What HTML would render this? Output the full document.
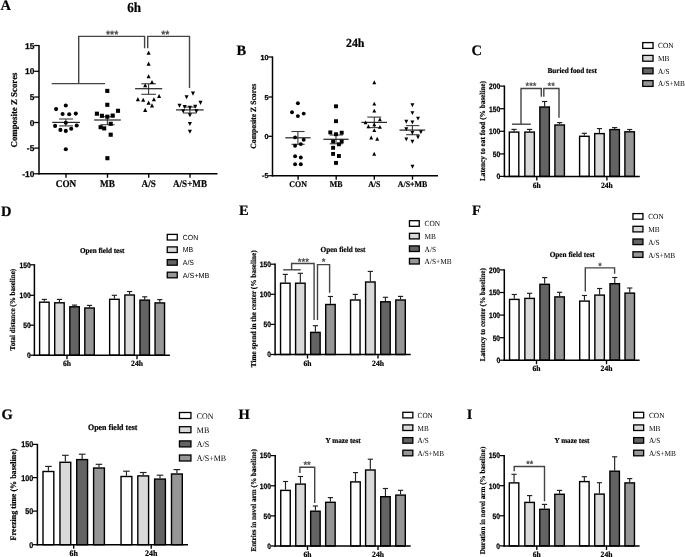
<!DOCTYPE html>
<html lang="en"><head><meta charset="utf-8"><title>Figure</title>
<style>
html,body{margin:0;padding:0;background:#fff;}
body{width:685px;height:557px;overflow:hidden;}
svg{display:block;}
</style></head>
<body>
<svg width="685" height="557" viewBox="0 0 685 557" text-rendering="geometricPrecision">
<rect width="685" height="557" fill="#fff"/>
<line x1="65.80" y1="119.00" x2="65.80" y2="125.90" stroke="#333" stroke-width="1.1" stroke-linecap="butt"/>
<line x1="59.10" y1="119.00" x2="73.00" y2="119.00" stroke="#3c3c3c" stroke-width="1.1" stroke-linecap="butt"/>
<line x1="59.10" y1="125.90" x2="73.00" y2="125.90" stroke="#3c3c3c" stroke-width="1.1" stroke-linecap="butt"/>
<line x1="52.20" y1="122.40" x2="79.90" y2="122.40" stroke="#2a2a2a" stroke-width="1.25" stroke-linecap="butt"/>
<circle cx="65.80" cy="105.50" r="2.05" fill="#000"/>
<circle cx="56.10" cy="109.10" r="2.05" fill="#000"/>
<circle cx="62.60" cy="114.00" r="2.05" fill="#000"/>
<circle cx="69.20" cy="114.30" r="2.05" fill="#000"/>
<circle cx="75.80" cy="113.60" r="2.05" fill="#000"/>
<circle cx="65.80" cy="122.80" r="2.05" fill="#000"/>
<circle cx="55.10" cy="125.90" r="2.05" fill="#000"/>
<circle cx="76.70" cy="125.50" r="2.05" fill="#000"/>
<circle cx="60.40" cy="129.90" r="2.05" fill="#000"/>
<circle cx="65.80" cy="130.90" r="2.05" fill="#000"/>
<circle cx="71.20" cy="128.80" r="2.05" fill="#000"/>
<circle cx="65.80" cy="149.30" r="2.05" fill="#000"/>
<line x1="107.40" y1="116.70" x2="107.40" y2="124.70" stroke="#333" stroke-width="1.1" stroke-linecap="butt"/>
<line x1="100.40" y1="116.70" x2="114.50" y2="116.70" stroke="#3c3c3c" stroke-width="1.1" stroke-linecap="butt"/>
<line x1="100.40" y1="124.70" x2="114.50" y2="124.70" stroke="#3c3c3c" stroke-width="1.1" stroke-linecap="butt"/>
<line x1="94.10" y1="120.00" x2="120.80" y2="120.00" stroke="#2a2a2a" stroke-width="1.25" stroke-linecap="butt"/>
<rect x="105.25" y="88.85" width="4.10" height="4.10" fill="#000"/>
<rect x="105.25" y="102.75" width="4.10" height="4.10" fill="#000"/>
<rect x="115.95" y="108.75" width="4.10" height="4.10" fill="#000"/>
<rect x="94.85" y="111.65" width="4.10" height="4.10" fill="#000"/>
<rect x="99.85" y="113.75" width="4.10" height="4.10" fill="#000"/>
<rect x="105.25" y="114.65" width="4.10" height="4.10" fill="#000"/>
<rect x="110.65" y="113.55" width="4.10" height="4.10" fill="#000"/>
<rect x="108.65" y="121.75" width="4.10" height="4.10" fill="#000"/>
<rect x="98.55" y="125.15" width="4.10" height="4.10" fill="#000"/>
<rect x="102.15" y="126.35" width="4.10" height="4.10" fill="#000"/>
<rect x="108.65" y="132.65" width="4.10" height="4.10" fill="#000"/>
<rect x="105.35" y="156.15" width="4.10" height="4.10" fill="#000"/>
<line x1="148.60" y1="83.80" x2="148.60" y2="94.30" stroke="#333" stroke-width="1.1" stroke-linecap="butt"/>
<line x1="141.30" y1="83.80" x2="155.90" y2="83.80" stroke="#3c3c3c" stroke-width="1.1" stroke-linecap="butt"/>
<line x1="141.30" y1="94.30" x2="155.90" y2="94.30" stroke="#3c3c3c" stroke-width="1.1" stroke-linecap="butt"/>
<line x1="135.10" y1="88.70" x2="162.20" y2="88.70" stroke="#2a2a2a" stroke-width="1.25" stroke-linecap="butt"/>
<polygon points="148.60,50.55 150.65,54.65 146.55,54.65" fill="#000"/>
<polygon points="148.60,61.55 150.65,65.65 146.55,65.65" fill="#000"/>
<polygon points="148.60,74.25 150.65,78.35 146.55,78.35" fill="#000"/>
<polygon points="152.00,79.95 154.05,84.05 149.95,84.05" fill="#000"/>
<polygon points="145.20,83.25 147.25,87.35 143.15,87.35" fill="#000"/>
<polygon points="159.10,93.95 161.15,98.05 157.05,98.05" fill="#000"/>
<polygon points="137.90,97.05 139.95,101.15 135.85,101.15" fill="#000"/>
<polygon points="143.20,97.65 145.25,101.75 141.15,101.75" fill="#000"/>
<polygon points="153.90,97.15 155.95,101.25 151.85,101.25" fill="#000"/>
<polygon points="148.60,100.55 150.65,104.65 146.55,104.65" fill="#000"/>
<polygon points="152.00,103.35 154.05,107.45 149.95,107.45" fill="#000"/>
<polygon points="145.20,107.85 147.25,111.95 143.15,111.95" fill="#000"/>
<line x1="189.90" y1="107.00" x2="189.90" y2="113.00" stroke="#333" stroke-width="1.1" stroke-linecap="butt"/>
<line x1="183.20" y1="107.00" x2="196.40" y2="107.00" stroke="#3c3c3c" stroke-width="1.1" stroke-linecap="butt"/>
<line x1="183.20" y1="113.00" x2="196.40" y2="113.00" stroke="#3c3c3c" stroke-width="1.1" stroke-linecap="butt"/>
<line x1="176.00" y1="109.90" x2="203.70" y2="109.90" stroke="#2a2a2a" stroke-width="1.25" stroke-linecap="butt"/>
<polygon points="193.00,95.65 195.05,91.55 190.95,91.55" fill="#000"/>
<polygon points="186.60,99.25 188.65,95.15 184.55,95.15" fill="#000"/>
<polygon points="200.50,104.95 202.55,100.85 198.45,100.85" fill="#000"/>
<polygon points="179.50,107.85 181.55,103.75 177.45,103.75" fill="#000"/>
<polygon points="184.70,109.05 186.75,104.95 182.65,104.95" fill="#000"/>
<polygon points="189.90,109.75 191.95,105.65 187.85,105.65" fill="#000"/>
<polygon points="195.20,108.85 197.25,104.75 193.15,104.75" fill="#000"/>
<polygon points="183.20,113.45 185.25,109.35 181.15,109.35" fill="#000"/>
<polygon points="196.40,113.45 198.45,109.35 194.35,109.35" fill="#000"/>
<polygon points="189.90,117.25 191.95,113.15 187.85,113.15" fill="#000"/>
<polygon points="189.90,126.05 191.95,121.95 187.85,121.95" fill="#000"/>
<polygon points="189.90,133.85 191.95,129.75 187.85,129.75" fill="#000"/>
<line x1="39.00" y1="44.90" x2="39.00" y2="174.50" stroke="#000" stroke-width="1.5" stroke-linecap="butt"/>
<line x1="38.25" y1="173.75" x2="217.50" y2="173.75" stroke="#000" stroke-width="1.5" stroke-linecap="butt"/>
<line x1="34.20" y1="45.50" x2="39.00" y2="45.50" stroke="#000" stroke-width="1.25" stroke-linecap="butt"/>
<text x="34.30" y="48.52" font-size="8.4" font-family='"Liberation Sans","DejaVu Sans",sans-serif' font-weight="bold" text-anchor="end" fill="#000" stroke="#000" stroke-width="0.26" stroke-linejoin="round" >15</text>
<line x1="34.20" y1="71.30" x2="39.00" y2="71.30" stroke="#000" stroke-width="1.25" stroke-linecap="butt"/>
<text x="34.30" y="74.32" font-size="8.4" font-family='"Liberation Sans","DejaVu Sans",sans-serif' font-weight="bold" text-anchor="end" fill="#000" stroke="#000" stroke-width="0.26" stroke-linejoin="round" >10</text>
<line x1="34.20" y1="97.00" x2="39.00" y2="97.00" stroke="#000" stroke-width="1.25" stroke-linecap="butt"/>
<text x="34.30" y="100.02" font-size="8.4" font-family='"Liberation Sans","DejaVu Sans",sans-serif' font-weight="bold" text-anchor="end" fill="#000" stroke="#000" stroke-width="0.26" stroke-linejoin="round" >5</text>
<line x1="34.20" y1="122.50" x2="39.00" y2="122.50" stroke="#000" stroke-width="1.25" stroke-linecap="butt"/>
<text x="34.30" y="125.52" font-size="8.4" font-family='"Liberation Sans","DejaVu Sans",sans-serif' font-weight="bold" text-anchor="end" fill="#000" stroke="#000" stroke-width="0.26" stroke-linejoin="round" >0</text>
<line x1="34.20" y1="148.10" x2="39.00" y2="148.10" stroke="#000" stroke-width="1.25" stroke-linecap="butt"/>
<text x="34.30" y="151.12" font-size="8.4" font-family='"Liberation Sans","DejaVu Sans",sans-serif' font-weight="bold" text-anchor="end" fill="#000" stroke="#000" stroke-width="0.26" stroke-linejoin="round" >-5</text>
<line x1="34.20" y1="173.75" x2="39.00" y2="173.75" stroke="#000" stroke-width="1.25" stroke-linecap="butt"/>
<text x="34.30" y="176.77" font-size="8.4" font-family='"Liberation Sans","DejaVu Sans",sans-serif' font-weight="bold" text-anchor="end" fill="#000" stroke="#000" stroke-width="0.26" stroke-linejoin="round" >-10</text>
<line x1="66.00" y1="173.75" x2="66.00" y2="177.75" stroke="#000" stroke-width="1.35" stroke-linecap="butt"/>
<text x="55.80" y="187.10" font-size="10.2" font-family='"Liberation Serif","DejaVu Serif",serif' font-weight="bold" text-anchor="start" fill="#000" textLength="20.40" lengthAdjust="spacingAndGlyphs" stroke="#000" stroke-width="0.2" stroke-linejoin="round" >CON</text>
<line x1="107.50" y1="173.75" x2="107.50" y2="177.75" stroke="#000" stroke-width="1.35" stroke-linecap="butt"/>
<text x="100.10" y="187.10" font-size="10.2" font-family='"Liberation Serif","DejaVu Serif",serif' font-weight="bold" text-anchor="start" fill="#000" textLength="14.80" lengthAdjust="spacingAndGlyphs" stroke="#000" stroke-width="0.2" stroke-linejoin="round" >MB</text>
<line x1="148.70" y1="173.75" x2="148.70" y2="177.75" stroke="#000" stroke-width="1.35" stroke-linecap="butt"/>
<text x="141.55" y="187.10" font-size="10.2" font-family='"Liberation Serif","DejaVu Serif",serif' font-weight="bold" text-anchor="start" fill="#000" textLength="14.30" lengthAdjust="spacingAndGlyphs" stroke="#000" stroke-width="0.2" stroke-linejoin="round" >A/S</text>
<line x1="190.00" y1="173.75" x2="190.00" y2="177.75" stroke="#000" stroke-width="1.35" stroke-linecap="butt"/>
<text x="173.00" y="187.10" font-size="10.2" font-family='"Liberation Serif","DejaVu Serif",serif' font-weight="bold" text-anchor="start" fill="#000" textLength="34.00" lengthAdjust="spacingAndGlyphs" stroke="#000" stroke-width="0.2" stroke-linejoin="round" >A/S+MB</text>
<text x="127.15" y="11.70" font-size="14" font-family='"Liberation Serif","DejaVu Serif",serif' font-weight="bold" text-anchor="start" fill="#000" textLength="13.90" lengthAdjust="spacingAndGlyphs" stroke="#000" stroke-width="0.2" stroke-linejoin="round" >6h</text>
<text x="-20.60" y="110.00" font-size="8.943999999999999" font-family='"Liberation Serif","DejaVu Serif",serif' font-weight="bold" text-anchor="start" fill="#000" textLength="75.00" lengthAdjust="spacingAndGlyphs" transform="rotate(-90 16.90 110.00)" stroke="#000" stroke-width="0.2" stroke-linejoin="round" >Composite Z Scores</text>
<text x="0.60" y="9.60" font-size="14.5" font-family='"Liberation Serif","DejaVu Serif",serif' font-weight="bold" text-anchor="start" fill="#000" stroke="#000" stroke-width="0.2" stroke-linejoin="round" >A</text>
<polyline points="51.70,83.60 105.00,83.60" fill="none" stroke="#444" stroke-width="1.4" stroke-linejoin="miter"/>
<polyline points="78.70,83.60 78.70,36.40 144.60,36.40 144.60,48.20" fill="none" stroke="#444" stroke-width="1.4" stroke-linejoin="miter"/>
<polyline points="147.70,48.20 147.70,36.40 189.50,36.40 189.50,87.90" fill="none" stroke="#444" stroke-width="1.4" stroke-linejoin="miter"/>
<text x="112.20" y="37.80" font-size="10.6" font-family='"Liberation Sans","DejaVu Sans",sans-serif' font-weight="normal" text-anchor="middle" fill="#444" stroke="#444" stroke-width="0.3">***</text>
<text x="165.30" y="37.80" font-size="10.6" font-family='"Liberation Sans","DejaVu Sans",sans-serif' font-weight="normal" text-anchor="middle" fill="#444" stroke="#444" stroke-width="0.3">**</text>
<line x1="297.90" y1="131.50" x2="297.90" y2="144.30" stroke="#333" stroke-width="1.1" stroke-linecap="butt"/>
<line x1="291.40" y1="131.50" x2="304.60" y2="131.50" stroke="#3c3c3c" stroke-width="1.1" stroke-linecap="butt"/>
<line x1="291.40" y1="144.30" x2="304.60" y2="144.30" stroke="#3c3c3c" stroke-width="1.1" stroke-linecap="butt"/>
<line x1="285.30" y1="137.80" x2="310.60" y2="137.80" stroke="#2a2a2a" stroke-width="1.25" stroke-linecap="butt"/>
<circle cx="297.90" cy="103.20" r="1.95" fill="#000"/>
<circle cx="292.00" cy="112.20" r="1.95" fill="#000"/>
<circle cx="303.70" cy="113.60" r="1.95" fill="#000"/>
<circle cx="297.90" cy="116.10" r="1.95" fill="#000"/>
<circle cx="295.10" cy="137.40" r="1.95" fill="#000"/>
<circle cx="303.70" cy="139.70" r="1.95" fill="#000"/>
<circle cx="300.80" cy="144.10" r="1.95" fill="#000"/>
<circle cx="295.10" cy="145.70" r="1.95" fill="#000"/>
<circle cx="295.10" cy="156.30" r="1.95" fill="#000"/>
<circle cx="300.80" cy="157.50" r="1.95" fill="#000"/>
<circle cx="295.10" cy="164.20" r="1.95" fill="#000"/>
<circle cx="300.80" cy="164.20" r="1.95" fill="#000"/>
<line x1="336.00" y1="135.00" x2="336.00" y2="143.80" stroke="#333" stroke-width="1.1" stroke-linecap="butt"/>
<line x1="329.70" y1="135.00" x2="342.90" y2="135.00" stroke="#3c3c3c" stroke-width="1.1" stroke-linecap="butt"/>
<line x1="329.70" y1="143.80" x2="342.90" y2="143.80" stroke="#3c3c3c" stroke-width="1.1" stroke-linecap="butt"/>
<line x1="323.40" y1="139.30" x2="348.60" y2="139.30" stroke="#2a2a2a" stroke-width="1.25" stroke-linecap="butt"/>
<rect x="334.05" y="104.35" width="3.90" height="3.90" fill="#000"/>
<rect x="334.05" y="119.25" width="3.90" height="3.90" fill="#000"/>
<rect x="328.35" y="130.45" width="3.90" height="3.90" fill="#000"/>
<rect x="334.05" y="132.25" width="3.90" height="3.90" fill="#000"/>
<rect x="339.75" y="130.75" width="3.90" height="3.90" fill="#000"/>
<rect x="331.15" y="139.55" width="3.90" height="3.90" fill="#000"/>
<rect x="339.75" y="139.55" width="3.90" height="3.90" fill="#000"/>
<rect x="336.95" y="142.35" width="3.90" height="3.90" fill="#000"/>
<rect x="331.15" y="145.85" width="3.90" height="3.90" fill="#000"/>
<rect x="331.15" y="151.95" width="3.90" height="3.90" fill="#000"/>
<rect x="336.95" y="154.05" width="3.90" height="3.90" fill="#000"/>
<rect x="334.05" y="160.95" width="3.90" height="3.90" fill="#000"/>
<line x1="374.30" y1="117.10" x2="374.30" y2="127.60" stroke="#333" stroke-width="1.1" stroke-linecap="butt"/>
<line x1="367.30" y1="117.10" x2="381.20" y2="117.10" stroke="#3c3c3c" stroke-width="1.1" stroke-linecap="butt"/>
<line x1="367.30" y1="127.60" x2="381.20" y2="127.60" stroke="#3c3c3c" stroke-width="1.1" stroke-linecap="butt"/>
<line x1="361.40" y1="122.40" x2="387.00" y2="122.40" stroke="#2a2a2a" stroke-width="1.25" stroke-linecap="butt"/>
<polygon points="374.30,80.35 376.25,84.25 372.35,84.25" fill="#000"/>
<polygon points="374.30,101.65 376.25,105.55 372.35,105.55" fill="#000"/>
<polygon points="374.30,108.65 376.25,112.55 372.35,112.55" fill="#000"/>
<polygon points="379.90,117.35 381.85,121.25 377.95,121.25" fill="#000"/>
<polygon points="365.60,120.45 367.55,124.35 363.65,124.35" fill="#000"/>
<polygon points="374.30,122.45 376.25,126.35 372.35,126.35" fill="#000"/>
<polygon points="368.40,124.35 370.35,128.25 366.45,128.25" fill="#000"/>
<polygon points="379.90,124.95 381.85,128.85 377.95,128.85" fill="#000"/>
<polygon points="374.30,128.15 376.25,132.05 372.35,132.05" fill="#000"/>
<polygon points="371.20,135.55 373.15,139.45 369.25,139.45" fill="#000"/>
<polygon points="377.20,136.85 379.15,140.75 375.25,140.75" fill="#000"/>
<polygon points="374.20,151.75 376.15,155.65 372.25,155.65" fill="#000"/>
<line x1="412.40" y1="125.60" x2="412.40" y2="134.70" stroke="#333" stroke-width="1.1" stroke-linecap="butt"/>
<line x1="406.10" y1="125.60" x2="419.30" y2="125.60" stroke="#3c3c3c" stroke-width="1.1" stroke-linecap="butt"/>
<line x1="406.10" y1="134.70" x2="419.30" y2="134.70" stroke="#3c3c3c" stroke-width="1.1" stroke-linecap="butt"/>
<line x1="399.50" y1="130.10" x2="425.20" y2="130.10" stroke="#2a2a2a" stroke-width="1.25" stroke-linecap="butt"/>
<polygon points="412.40,107.15 414.35,103.25 410.45,103.25" fill="#000"/>
<polygon points="412.40,115.05 414.35,111.15 410.45,111.15" fill="#000"/>
<polygon points="418.00,120.55 419.95,116.65 416.05,116.65" fill="#000"/>
<polygon points="406.30,123.75 408.25,119.85 404.35,119.85" fill="#000"/>
<polygon points="412.40,124.45 414.35,120.55 410.45,120.55" fill="#000"/>
<polygon points="406.30,131.25 408.25,127.35 404.35,127.35" fill="#000"/>
<polygon points="420.90,134.15 422.85,130.25 418.95,130.25" fill="#000"/>
<polygon points="412.40,134.85 414.35,130.95 410.45,130.95" fill="#000"/>
<polygon points="418.00,139.25 419.95,135.35 416.05,135.35" fill="#000"/>
<polygon points="406.30,141.35 408.25,137.45 404.35,137.45" fill="#000"/>
<polygon points="412.40,143.65 414.35,139.75 410.45,139.75" fill="#000"/>
<polygon points="412.50,168.65 414.45,164.75 410.55,164.75" fill="#000"/>
<line x1="272.50" y1="56.40" x2="272.50" y2="176.45" stroke="#000" stroke-width="1.5" stroke-linecap="butt"/>
<line x1="271.75" y1="175.70" x2="438.00" y2="175.70" stroke="#000" stroke-width="1.5" stroke-linecap="butt"/>
<line x1="268.30" y1="57.00" x2="272.50" y2="57.00" stroke="#000" stroke-width="1.25" stroke-linecap="butt"/>
<text x="268.40" y="59.59" font-size="7.2" font-family='"Liberation Sans","DejaVu Sans",sans-serif' font-weight="bold" text-anchor="end" fill="#000" stroke="#000" stroke-width="0.26" stroke-linejoin="round" >10</text>
<line x1="268.30" y1="97.00" x2="272.50" y2="97.00" stroke="#000" stroke-width="1.25" stroke-linecap="butt"/>
<text x="268.40" y="99.59" font-size="7.2" font-family='"Liberation Sans","DejaVu Sans",sans-serif' font-weight="bold" text-anchor="end" fill="#000" stroke="#000" stroke-width="0.26" stroke-linejoin="round" >5</text>
<line x1="268.30" y1="136.30" x2="272.50" y2="136.30" stroke="#000" stroke-width="1.25" stroke-linecap="butt"/>
<text x="268.40" y="138.89" font-size="7.2" font-family='"Liberation Sans","DejaVu Sans",sans-serif' font-weight="bold" text-anchor="end" fill="#000" stroke="#000" stroke-width="0.26" stroke-linejoin="round" >0</text>
<line x1="268.30" y1="175.70" x2="272.50" y2="175.70" stroke="#000" stroke-width="1.25" stroke-linecap="butt"/>
<text x="268.40" y="178.29" font-size="7.2" font-family='"Liberation Sans","DejaVu Sans",sans-serif' font-weight="bold" text-anchor="end" fill="#000" stroke="#000" stroke-width="0.26" stroke-linejoin="round" >-5</text>
<line x1="298.10" y1="175.70" x2="298.10" y2="179.70" stroke="#000" stroke-width="1.35" stroke-linecap="butt"/>
<text x="289.30" y="187.00" font-size="8.7" font-family='"Liberation Serif","DejaVu Serif",serif' font-weight="bold" text-anchor="start" fill="#000" textLength="17.60" lengthAdjust="spacingAndGlyphs" stroke="#000" stroke-width="0.2" stroke-linejoin="round" >CON</text>
<line x1="336.20" y1="175.70" x2="336.20" y2="179.70" stroke="#000" stroke-width="1.35" stroke-linecap="butt"/>
<text x="329.80" y="187.00" font-size="8.7" font-family='"Liberation Serif","DejaVu Serif",serif' font-weight="bold" text-anchor="start" fill="#000" textLength="12.80" lengthAdjust="spacingAndGlyphs" stroke="#000" stroke-width="0.2" stroke-linejoin="round" >MB</text>
<line x1="374.30" y1="175.70" x2="374.30" y2="179.70" stroke="#000" stroke-width="1.35" stroke-linecap="butt"/>
<text x="368.15" y="187.00" font-size="8.7" font-family='"Liberation Serif","DejaVu Serif",serif' font-weight="bold" text-anchor="start" fill="#000" textLength="12.30" lengthAdjust="spacingAndGlyphs" stroke="#000" stroke-width="0.2" stroke-linejoin="round" >A/S</text>
<line x1="412.50" y1="175.70" x2="412.50" y2="179.70" stroke="#000" stroke-width="1.35" stroke-linecap="butt"/>
<text x="397.75" y="187.00" font-size="8.7" font-family='"Liberation Serif","DejaVu Serif",serif' font-weight="bold" text-anchor="start" fill="#000" textLength="29.50" lengthAdjust="spacingAndGlyphs" stroke="#000" stroke-width="0.2" stroke-linejoin="round" >A/S+MB</text>
<text x="345.95" y="47.00" font-size="12.4" font-family='"Liberation Serif","DejaVu Serif",serif' font-weight="bold" text-anchor="start" fill="#000" textLength="18.50" lengthAdjust="spacingAndGlyphs" stroke="#000" stroke-width="0.2" stroke-linejoin="round" >24h</text>
<text x="223.70" y="116.20" font-size="8.008000000000001" font-family='"Liberation Serif","DejaVu Serif",serif' font-weight="bold" text-anchor="start" fill="#000" textLength="65.00" lengthAdjust="spacingAndGlyphs" transform="rotate(-90 256.20 116.20)" stroke="#000" stroke-width="0.2" stroke-linejoin="round" >Composite Z Scores</text>
<text x="236.50" y="55.00" font-size="14.5" font-family='"Liberation Serif","DejaVu Serif",serif' font-weight="bold" text-anchor="start" fill="#000" stroke="#000" stroke-width="0.2" stroke-linejoin="round" >B</text>
<line x1="514.05" y1="131.40" x2="514.05" y2="129.40" stroke="#222" stroke-width="1.15" stroke-linecap="butt"/>
<line x1="511.45" y1="129.40" x2="516.65" y2="129.40" stroke="#222" stroke-width="1.15" stroke-linecap="butt"/>
<rect x="509.30" y="132.10" width="9.50" height="44.30" fill="#ffffff" stroke="#000" stroke-width="1.4"/>
<line x1="529.60" y1="131.40" x2="529.60" y2="129.40" stroke="#222" stroke-width="1.15" stroke-linecap="butt"/>
<line x1="527.00" y1="129.40" x2="532.20" y2="129.40" stroke="#222" stroke-width="1.15" stroke-linecap="butt"/>
<rect x="524.85" y="132.10" width="9.50" height="44.30" fill="#d9d9d9" stroke="#000" stroke-width="1.4"/>
<line x1="544.60" y1="106.30" x2="544.60" y2="101.50" stroke="#222" stroke-width="1.15" stroke-linecap="butt"/>
<line x1="542.00" y1="101.50" x2="547.20" y2="101.50" stroke="#222" stroke-width="1.15" stroke-linecap="butt"/>
<rect x="539.85" y="107.00" width="9.50" height="69.40" fill="#636363" stroke="#000" stroke-width="1.4"/>
<line x1="559.65" y1="124.30" x2="559.65" y2="122.60" stroke="#222" stroke-width="1.15" stroke-linecap="butt"/>
<line x1="557.05" y1="122.60" x2="562.25" y2="122.60" stroke="#222" stroke-width="1.15" stroke-linecap="butt"/>
<rect x="554.90" y="125.00" width="9.50" height="51.40" fill="#969696" stroke="#000" stroke-width="1.4"/>
<line x1="584.35" y1="135.60" x2="584.35" y2="133.30" stroke="#222" stroke-width="1.15" stroke-linecap="butt"/>
<line x1="581.75" y1="133.30" x2="586.95" y2="133.30" stroke="#222" stroke-width="1.15" stroke-linecap="butt"/>
<rect x="579.60" y="136.30" width="9.50" height="40.10" fill="#ffffff" stroke="#000" stroke-width="1.4"/>
<line x1="599.45" y1="132.90" x2="599.45" y2="128.60" stroke="#222" stroke-width="1.15" stroke-linecap="butt"/>
<line x1="596.85" y1="128.60" x2="602.05" y2="128.60" stroke="#222" stroke-width="1.15" stroke-linecap="butt"/>
<rect x="594.70" y="133.60" width="9.50" height="42.80" fill="#d9d9d9" stroke="#000" stroke-width="1.4"/>
<line x1="614.65" y1="128.90" x2="614.65" y2="127.60" stroke="#222" stroke-width="1.15" stroke-linecap="butt"/>
<line x1="612.05" y1="127.60" x2="617.25" y2="127.60" stroke="#222" stroke-width="1.15" stroke-linecap="butt"/>
<rect x="609.90" y="129.60" width="9.50" height="46.80" fill="#636363" stroke="#000" stroke-width="1.4"/>
<line x1="629.65" y1="131.10" x2="629.65" y2="129.50" stroke="#222" stroke-width="1.15" stroke-linecap="butt"/>
<line x1="627.05" y1="129.50" x2="632.25" y2="129.50" stroke="#222" stroke-width="1.15" stroke-linecap="butt"/>
<rect x="624.90" y="131.80" width="9.50" height="44.60" fill="#969696" stroke="#000" stroke-width="1.4"/>
<line x1="504.40" y1="85.50" x2="504.40" y2="177.15" stroke="#000" stroke-width="1.5" stroke-linecap="butt"/>
<line x1="503.65" y1="176.40" x2="639.80" y2="176.40" stroke="#000" stroke-width="1.5" stroke-linecap="butt"/>
<line x1="499.80" y1="86.10" x2="504.40" y2="86.10" stroke="#000" stroke-width="1.25" stroke-linecap="butt"/>
<text x="489.03" y="88.91" font-size="7.81" font-family='"Liberation Sans","DejaVu Sans",sans-serif' font-weight="bold" text-anchor="start" fill="#000" textLength="11.17" lengthAdjust="spacingAndGlyphs" stroke="#000" stroke-width="0.26" stroke-linejoin="round" >200</text>
<line x1="499.80" y1="108.70" x2="504.40" y2="108.70" stroke="#000" stroke-width="1.25" stroke-linecap="butt"/>
<text x="489.03" y="111.51" font-size="7.81" font-family='"Liberation Sans","DejaVu Sans",sans-serif' font-weight="bold" text-anchor="start" fill="#000" textLength="11.17" lengthAdjust="spacingAndGlyphs" stroke="#000" stroke-width="0.26" stroke-linejoin="round" >150</text>
<line x1="499.80" y1="131.30" x2="504.40" y2="131.30" stroke="#000" stroke-width="1.25" stroke-linecap="butt"/>
<text x="489.03" y="134.11" font-size="7.81" font-family='"Liberation Sans","DejaVu Sans",sans-serif' font-weight="bold" text-anchor="start" fill="#000" textLength="11.17" lengthAdjust="spacingAndGlyphs" stroke="#000" stroke-width="0.26" stroke-linejoin="round" >100</text>
<line x1="499.80" y1="153.90" x2="504.40" y2="153.90" stroke="#000" stroke-width="1.25" stroke-linecap="butt"/>
<text x="492.75" y="156.71" font-size="7.81" font-family='"Liberation Sans","DejaVu Sans",sans-serif' font-weight="bold" text-anchor="start" fill="#000" textLength="7.45" lengthAdjust="spacingAndGlyphs" stroke="#000" stroke-width="0.26" stroke-linejoin="round" >50</text>
<line x1="499.80" y1="176.40" x2="504.40" y2="176.40" stroke="#000" stroke-width="1.25" stroke-linecap="butt"/>
<text x="496.48" y="179.21" font-size="7.81" font-family='"Liberation Sans","DejaVu Sans",sans-serif' font-weight="bold" text-anchor="start" fill="#000" textLength="3.72" lengthAdjust="spacingAndGlyphs" stroke="#000" stroke-width="0.26" stroke-linejoin="round" >0</text>
<line x1="536.80" y1="176.40" x2="536.80" y2="180.40" stroke="#000" stroke-width="1.35" stroke-linecap="butt"/>
<text x="532.80" y="187.50" font-size="8" font-family='"Liberation Serif","DejaVu Serif",serif' font-weight="bold" text-anchor="start" fill="#000" textLength="8.00" lengthAdjust="spacingAndGlyphs" stroke="#000" stroke-width="0.2" stroke-linejoin="round" >6h</text>
<line x1="606.90" y1="176.40" x2="606.90" y2="180.40" stroke="#000" stroke-width="1.35" stroke-linecap="butt"/>
<text x="600.98" y="187.50" font-size="8" font-family='"Liberation Serif","DejaVu Serif",serif' font-weight="bold" text-anchor="start" fill="#000" textLength="11.84" lengthAdjust="spacingAndGlyphs" stroke="#000" stroke-width="0.2" stroke-linejoin="round" >24h</text>
<text x="547.45" y="73.40" font-size="7.665" font-family='"Liberation Serif","DejaVu Serif",serif' font-weight="bold" text-anchor="start" fill="#000" textLength="49.50" lengthAdjust="spacingAndGlyphs" stroke="#000" stroke-width="0.2" stroke-linejoin="round" >Buried food test</text>
<text x="435.00" y="131.00" font-size="7.592" font-family='"Liberation Serif","DejaVu Serif",serif' font-weight="bold" text-anchor="start" fill="#000" textLength="100.00" lengthAdjust="spacingAndGlyphs" transform="rotate(-90 485.00 131.00)" stroke="#000" stroke-width="0.2" stroke-linejoin="round" >Latency to eat food (% baseline)</text>
<text x="471.50" y="55.00" font-size="14.5" font-family='"Liberation Serif","DejaVu Serif",serif' font-weight="bold" text-anchor="start" fill="#000" stroke="#000" stroke-width="0.2" stroke-linejoin="round" >C</text>
<polyline points="512.00,124.20 530.80,124.20" fill="none" stroke="#444" stroke-width="1.4" stroke-linejoin="miter"/>
<polyline points="521.00,124.20 521.00,88.50 541.30,88.50 541.30,96.80" fill="none" stroke="#444" stroke-width="1.4" stroke-linejoin="miter"/>
<polyline points="543.80,96.80 543.80,88.50 559.00,88.50 559.00,117.70" fill="none" stroke="#444" stroke-width="1.4" stroke-linejoin="miter"/>
<text x="531.00" y="89.00" font-size="9.3" font-family='"Liberation Sans","DejaVu Sans",sans-serif' font-weight="normal" text-anchor="middle" fill="#444" stroke="#444" stroke-width="0.3">***</text>
<text x="551.20" y="89.00" font-size="9.3" font-family='"Liberation Sans","DejaVu Sans",sans-serif' font-weight="normal" text-anchor="middle" fill="#444" stroke="#444" stroke-width="0.3">**</text>
<rect x="642.75" y="42.60" width="10.30" height="5.80" fill="#ffffff" stroke="#000" stroke-width="1.3"/>
<text x="658.10" y="48.45" font-size="7.8" font-family='"Liberation Serif","DejaVu Serif",serif' font-weight="normal" text-anchor="start" fill="#000" textLength="15.40" lengthAdjust="spacingAndGlyphs" >CON</text>
<rect x="642.75" y="55.40" width="10.30" height="5.80" fill="#d9d9d9" stroke="#000" stroke-width="1.3"/>
<text x="658.10" y="61.25" font-size="7.8" font-family='"Liberation Serif","DejaVu Serif",serif' font-weight="normal" text-anchor="start" fill="#000" textLength="11.40" lengthAdjust="spacingAndGlyphs" >MB</text>
<rect x="642.75" y="68.00" width="10.30" height="5.80" fill="#636363" stroke="#000" stroke-width="1.3"/>
<text x="658.10" y="73.85" font-size="7.8" font-family='"Liberation Serif","DejaVu Serif",serif' font-weight="normal" text-anchor="start" fill="#000" textLength="11.40" lengthAdjust="spacingAndGlyphs" >A/S</text>
<rect x="642.75" y="80.60" width="10.30" height="5.80" fill="#969696" stroke="#000" stroke-width="1.3"/>
<text x="658.10" y="86.45" font-size="7.8" font-family='"Liberation Serif","DejaVu Serif",serif' font-weight="normal" text-anchor="start" fill="#000" textLength="26.90" lengthAdjust="spacingAndGlyphs" >A/S+MB</text>
<line x1="44.35" y1="301.50" x2="44.35" y2="299.40" stroke="#222" stroke-width="1.15" stroke-linecap="butt"/>
<line x1="41.75" y1="299.40" x2="46.95" y2="299.40" stroke="#222" stroke-width="1.15" stroke-linecap="butt"/>
<rect x="39.60" y="302.20" width="9.50" height="53.00" fill="#ffffff" stroke="#000" stroke-width="1.4"/>
<line x1="59.45" y1="302.10" x2="59.45" y2="299.40" stroke="#222" stroke-width="1.15" stroke-linecap="butt"/>
<line x1="56.85" y1="299.40" x2="62.05" y2="299.40" stroke="#222" stroke-width="1.15" stroke-linecap="butt"/>
<rect x="54.70" y="302.80" width="9.50" height="52.40" fill="#d9d9d9" stroke="#000" stroke-width="1.4"/>
<line x1="74.55" y1="306.10" x2="74.55" y2="305.10" stroke="#222" stroke-width="1.15" stroke-linecap="butt"/>
<line x1="71.95" y1="305.10" x2="77.15" y2="305.10" stroke="#222" stroke-width="1.15" stroke-linecap="butt"/>
<rect x="69.80" y="306.80" width="9.50" height="48.40" fill="#636363" stroke="#000" stroke-width="1.4"/>
<line x1="89.55" y1="307.30" x2="89.55" y2="305.40" stroke="#222" stroke-width="1.15" stroke-linecap="butt"/>
<line x1="86.95" y1="305.40" x2="92.15" y2="305.40" stroke="#222" stroke-width="1.15" stroke-linecap="butt"/>
<rect x="84.80" y="308.00" width="9.50" height="47.20" fill="#969696" stroke="#000" stroke-width="1.4"/>
<line x1="114.40" y1="298.60" x2="114.40" y2="295.30" stroke="#222" stroke-width="1.15" stroke-linecap="butt"/>
<line x1="111.80" y1="295.30" x2="117.00" y2="295.30" stroke="#222" stroke-width="1.15" stroke-linecap="butt"/>
<rect x="109.65" y="299.30" width="9.50" height="55.90" fill="#ffffff" stroke="#000" stroke-width="1.4"/>
<line x1="129.60" y1="294.30" x2="129.60" y2="291.50" stroke="#222" stroke-width="1.15" stroke-linecap="butt"/>
<line x1="127.00" y1="291.50" x2="132.20" y2="291.50" stroke="#222" stroke-width="1.15" stroke-linecap="butt"/>
<rect x="124.85" y="295.00" width="9.50" height="60.20" fill="#d9d9d9" stroke="#000" stroke-width="1.4"/>
<line x1="144.70" y1="299.40" x2="144.70" y2="296.80" stroke="#222" stroke-width="1.15" stroke-linecap="butt"/>
<line x1="142.10" y1="296.80" x2="147.30" y2="296.80" stroke="#222" stroke-width="1.15" stroke-linecap="butt"/>
<rect x="139.95" y="300.10" width="9.50" height="55.10" fill="#636363" stroke="#000" stroke-width="1.4"/>
<line x1="159.80" y1="302.20" x2="159.80" y2="299.60" stroke="#222" stroke-width="1.15" stroke-linecap="butt"/>
<line x1="157.20" y1="299.60" x2="162.40" y2="299.60" stroke="#222" stroke-width="1.15" stroke-linecap="butt"/>
<rect x="155.05" y="302.90" width="9.50" height="52.30" fill="#969696" stroke="#000" stroke-width="1.4"/>
<line x1="34.40" y1="264.20" x2="34.40" y2="355.95" stroke="#000" stroke-width="1.5" stroke-linecap="butt"/>
<line x1="33.65" y1="355.20" x2="169.90" y2="355.20" stroke="#000" stroke-width="1.5" stroke-linecap="butt"/>
<line x1="29.80" y1="264.80" x2="34.40" y2="264.80" stroke="#000" stroke-width="1.25" stroke-linecap="butt"/>
<text x="19.53" y="267.61" font-size="7.81" font-family='"Liberation Sans","DejaVu Sans",sans-serif' font-weight="bold" text-anchor="start" fill="#000" textLength="11.17" lengthAdjust="spacingAndGlyphs" stroke="#000" stroke-width="0.26" stroke-linejoin="round" >150</text>
<line x1="29.80" y1="295.30" x2="34.40" y2="295.30" stroke="#000" stroke-width="1.25" stroke-linecap="butt"/>
<text x="19.53" y="298.11" font-size="7.81" font-family='"Liberation Sans","DejaVu Sans",sans-serif' font-weight="bold" text-anchor="start" fill="#000" textLength="11.17" lengthAdjust="spacingAndGlyphs" stroke="#000" stroke-width="0.26" stroke-linejoin="round" >100</text>
<line x1="29.80" y1="325.20" x2="34.40" y2="325.20" stroke="#000" stroke-width="1.25" stroke-linecap="butt"/>
<text x="23.25" y="328.01" font-size="7.81" font-family='"Liberation Sans","DejaVu Sans",sans-serif' font-weight="bold" text-anchor="start" fill="#000" textLength="7.45" lengthAdjust="spacingAndGlyphs" stroke="#000" stroke-width="0.26" stroke-linejoin="round" >50</text>
<line x1="29.80" y1="355.20" x2="34.40" y2="355.20" stroke="#000" stroke-width="1.25" stroke-linecap="butt"/>
<text x="26.98" y="358.01" font-size="7.81" font-family='"Liberation Sans","DejaVu Sans",sans-serif' font-weight="bold" text-anchor="start" fill="#000" textLength="3.72" lengthAdjust="spacingAndGlyphs" stroke="#000" stroke-width="0.26" stroke-linejoin="round" >0</text>
<line x1="67.00" y1="355.20" x2="67.00" y2="359.20" stroke="#000" stroke-width="1.35" stroke-linecap="butt"/>
<text x="63.00" y="366.20" font-size="8" font-family='"Liberation Serif","DejaVu Serif",serif' font-weight="bold" text-anchor="start" fill="#000" textLength="8.00" lengthAdjust="spacingAndGlyphs" stroke="#000" stroke-width="0.2" stroke-linejoin="round" >6h</text>
<line x1="137.00" y1="355.20" x2="137.00" y2="359.20" stroke="#000" stroke-width="1.35" stroke-linecap="butt"/>
<text x="131.08" y="366.20" font-size="8" font-family='"Liberation Serif","DejaVu Serif",serif' font-weight="bold" text-anchor="start" fill="#000" textLength="11.84" lengthAdjust="spacingAndGlyphs" stroke="#000" stroke-width="0.2" stroke-linejoin="round" >24h</text>
<text x="79.95" y="252.60" font-size="7.5600000000000005" font-family='"Liberation Serif","DejaVu Serif",serif' font-weight="bold" text-anchor="start" fill="#000" textLength="44.50" lengthAdjust="spacingAndGlyphs" stroke="#000" stroke-width="0.2" stroke-linejoin="round" >Open field test</text>
<text x="-26.20" y="309.60" font-size="7.436000000000001" font-family='"Liberation Serif","DejaVu Serif",serif' font-weight="bold" text-anchor="start" fill="#000" textLength="81.60" lengthAdjust="spacingAndGlyphs" transform="rotate(-90 14.60 309.60)" stroke="#000" stroke-width="0.2" stroke-linejoin="round" >Total distance (% baseline)</text>
<text x="1.00" y="215.80" font-size="14.5" font-family='"Liberation Serif","DejaVu Serif",serif' font-weight="bold" text-anchor="start" fill="#000" stroke="#000" stroke-width="0.2" stroke-linejoin="round" >D</text>
<rect x="167.25" y="234.40" width="10.00" height="5.60" fill="#ffffff" stroke="#000" stroke-width="1.3"/>
<text x="182.80" y="239.80" font-size="7.4" font-family='"Liberation Sans","DejaVu Sans",sans-serif' font-weight="normal" text-anchor="start" fill="#000" textLength="15.40" lengthAdjust="spacingAndGlyphs" >CON</text>
<rect x="167.25" y="246.90" width="10.00" height="5.60" fill="#d9d9d9" stroke="#000" stroke-width="1.3"/>
<text x="182.80" y="252.30" font-size="7.4" font-family='"Liberation Sans","DejaVu Sans",sans-serif' font-weight="normal" text-anchor="start" fill="#000" textLength="10.40" lengthAdjust="spacingAndGlyphs" >MB</text>
<rect x="167.25" y="259.60" width="10.00" height="5.60" fill="#636363" stroke="#000" stroke-width="1.3"/>
<text x="182.80" y="265.00" font-size="7.4" font-family='"Liberation Sans","DejaVu Sans",sans-serif' font-weight="normal" text-anchor="start" fill="#000" textLength="11.20" lengthAdjust="spacingAndGlyphs" >A/S</text>
<rect x="167.25" y="272.20" width="10.00" height="5.60" fill="#969696" stroke="#000" stroke-width="1.3"/>
<text x="182.80" y="277.60" font-size="7.4" font-family='"Liberation Sans","DejaVu Sans",sans-serif' font-weight="normal" text-anchor="start" fill="#000" textLength="26.60" lengthAdjust="spacingAndGlyphs" >A/S+MB</text>
<line x1="285.30" y1="282.50" x2="285.30" y2="274.40" stroke="#222" stroke-width="1.15" stroke-linecap="butt"/>
<line x1="282.70" y1="274.40" x2="287.90" y2="274.40" stroke="#222" stroke-width="1.15" stroke-linecap="butt"/>
<rect x="280.55" y="283.20" width="9.50" height="71.30" fill="#ffffff" stroke="#000" stroke-width="1.4"/>
<line x1="300.35" y1="282.50" x2="300.35" y2="273.30" stroke="#222" stroke-width="1.15" stroke-linecap="butt"/>
<line x1="297.75" y1="273.30" x2="302.95" y2="273.30" stroke="#222" stroke-width="1.15" stroke-linecap="butt"/>
<rect x="295.60" y="283.20" width="9.50" height="71.30" fill="#d9d9d9" stroke="#000" stroke-width="1.4"/>
<line x1="315.40" y1="331.70" x2="315.40" y2="325.70" stroke="#222" stroke-width="1.15" stroke-linecap="butt"/>
<line x1="312.80" y1="325.70" x2="318.00" y2="325.70" stroke="#222" stroke-width="1.15" stroke-linecap="butt"/>
<rect x="310.65" y="332.40" width="9.50" height="22.10" fill="#636363" stroke="#000" stroke-width="1.4"/>
<line x1="330.45" y1="303.80" x2="330.45" y2="296.50" stroke="#222" stroke-width="1.15" stroke-linecap="butt"/>
<line x1="327.85" y1="296.50" x2="333.05" y2="296.50" stroke="#222" stroke-width="1.15" stroke-linecap="butt"/>
<rect x="325.70" y="304.50" width="9.50" height="50.00" fill="#969696" stroke="#000" stroke-width="1.4"/>
<line x1="355.30" y1="299.30" x2="355.30" y2="294.40" stroke="#222" stroke-width="1.15" stroke-linecap="butt"/>
<line x1="352.70" y1="294.40" x2="357.90" y2="294.40" stroke="#222" stroke-width="1.15" stroke-linecap="butt"/>
<rect x="350.55" y="300.00" width="9.50" height="54.50" fill="#ffffff" stroke="#000" stroke-width="1.4"/>
<line x1="370.35" y1="281.30" x2="370.35" y2="271.40" stroke="#222" stroke-width="1.15" stroke-linecap="butt"/>
<line x1="367.75" y1="271.40" x2="372.95" y2="271.40" stroke="#222" stroke-width="1.15" stroke-linecap="butt"/>
<rect x="365.60" y="282.00" width="9.50" height="72.50" fill="#d9d9d9" stroke="#000" stroke-width="1.4"/>
<line x1="385.45" y1="301.10" x2="385.45" y2="297.30" stroke="#222" stroke-width="1.15" stroke-linecap="butt"/>
<line x1="382.85" y1="297.30" x2="388.05" y2="297.30" stroke="#222" stroke-width="1.15" stroke-linecap="butt"/>
<rect x="380.70" y="301.80" width="9.50" height="52.70" fill="#636363" stroke="#000" stroke-width="1.4"/>
<line x1="400.55" y1="299.30" x2="400.55" y2="296.40" stroke="#222" stroke-width="1.15" stroke-linecap="butt"/>
<line x1="397.95" y1="296.40" x2="403.15" y2="296.40" stroke="#222" stroke-width="1.15" stroke-linecap="butt"/>
<rect x="395.80" y="300.00" width="9.50" height="54.50" fill="#969696" stroke="#000" stroke-width="1.4"/>
<line x1="275.10" y1="263.60" x2="275.10" y2="355.25" stroke="#000" stroke-width="1.5" stroke-linecap="butt"/>
<line x1="274.35" y1="354.50" x2="410.70" y2="354.50" stroke="#000" stroke-width="1.5" stroke-linecap="butt"/>
<line x1="270.50" y1="264.20" x2="275.10" y2="264.20" stroke="#000" stroke-width="1.25" stroke-linecap="butt"/>
<text x="259.73" y="267.01" font-size="7.81" font-family='"Liberation Sans","DejaVu Sans",sans-serif' font-weight="bold" text-anchor="start" fill="#000" textLength="11.17" lengthAdjust="spacingAndGlyphs" stroke="#000" stroke-width="0.26" stroke-linejoin="round" >150</text>
<line x1="270.50" y1="294.30" x2="275.10" y2="294.30" stroke="#000" stroke-width="1.25" stroke-linecap="butt"/>
<text x="259.73" y="297.11" font-size="7.81" font-family='"Liberation Sans","DejaVu Sans",sans-serif' font-weight="bold" text-anchor="start" fill="#000" textLength="11.17" lengthAdjust="spacingAndGlyphs" stroke="#000" stroke-width="0.26" stroke-linejoin="round" >100</text>
<line x1="270.50" y1="324.40" x2="275.10" y2="324.40" stroke="#000" stroke-width="1.25" stroke-linecap="butt"/>
<text x="263.45" y="327.21" font-size="7.81" font-family='"Liberation Sans","DejaVu Sans",sans-serif' font-weight="bold" text-anchor="start" fill="#000" textLength="7.45" lengthAdjust="spacingAndGlyphs" stroke="#000" stroke-width="0.26" stroke-linejoin="round" >50</text>
<line x1="270.50" y1="354.50" x2="275.10" y2="354.50" stroke="#000" stroke-width="1.25" stroke-linecap="butt"/>
<text x="267.18" y="357.31" font-size="7.81" font-family='"Liberation Sans","DejaVu Sans",sans-serif' font-weight="bold" text-anchor="start" fill="#000" textLength="3.72" lengthAdjust="spacingAndGlyphs" stroke="#000" stroke-width="0.26" stroke-linejoin="round" >0</text>
<line x1="307.50" y1="354.50" x2="307.50" y2="358.50" stroke="#000" stroke-width="1.35" stroke-linecap="butt"/>
<text x="303.50" y="365.70" font-size="8" font-family='"Liberation Serif","DejaVu Serif",serif' font-weight="bold" text-anchor="start" fill="#000" textLength="8.00" lengthAdjust="spacingAndGlyphs" stroke="#000" stroke-width="0.2" stroke-linejoin="round" >6h</text>
<line x1="378.00" y1="354.50" x2="378.00" y2="358.50" stroke="#000" stroke-width="1.35" stroke-linecap="butt"/>
<text x="372.08" y="365.70" font-size="8" font-family='"Liberation Serif","DejaVu Serif",serif' font-weight="bold" text-anchor="start" fill="#000" textLength="11.84" lengthAdjust="spacingAndGlyphs" stroke="#000" stroke-width="0.2" stroke-linejoin="round" >24h</text>
<text x="320.50" y="251.90" font-size="7.665" font-family='"Liberation Serif","DejaVu Serif",serif' font-weight="bold" text-anchor="start" fill="#000" textLength="45.00" lengthAdjust="spacingAndGlyphs" stroke="#000" stroke-width="0.2" stroke-linejoin="round" >Open field test</text>
<text x="197.50" y="308.80" font-size="7.592" font-family='"Liberation Serif","DejaVu Serif",serif' font-weight="bold" text-anchor="start" fill="#000" textLength="116.80" lengthAdjust="spacingAndGlyphs" transform="rotate(-90 255.90 308.80)" stroke="#000" stroke-width="0.2" stroke-linejoin="round" >Time spend in the center (% baseline)</text>
<text x="239.00" y="215.10" font-size="14.5" font-family='"Liberation Serif","DejaVu Serif",serif' font-weight="bold" text-anchor="start" fill="#000" stroke="#000" stroke-width="0.2" stroke-linejoin="round" >E</text>
<polyline points="283.20,269.80 300.70,269.80" fill="none" stroke="#444" stroke-width="1.4" stroke-linejoin="miter"/>
<polyline points="291.60,269.80 291.60,263.50 314.10,263.50 314.10,320.00" fill="none" stroke="#444" stroke-width="1.4" stroke-linejoin="miter"/>
<polyline points="317.50,320.00 317.50,264.60 329.60,264.60 329.60,292.70" fill="none" stroke="#444" stroke-width="1.4" stroke-linejoin="miter"/>
<text x="303.40" y="264.70" font-size="9.5" font-family='"Liberation Sans","DejaVu Sans",sans-serif' font-weight="normal" text-anchor="middle" fill="#444" stroke="#444" stroke-width="0.3">***</text>
<text x="323.50" y="264.70" font-size="9.5" font-family='"Liberation Sans","DejaVu Sans",sans-serif' font-weight="normal" text-anchor="middle" fill="#444" stroke="#444" stroke-width="0.3">*</text>
<rect x="409.45" y="220.70" width="9.80" height="5.60" fill="#ffffff" stroke="#000" stroke-width="1.3"/>
<text x="424.60" y="226.45" font-size="7.8" font-family='"Liberation Serif","DejaVu Serif",serif' font-weight="normal" text-anchor="start" fill="#000" textLength="15.50" lengthAdjust="spacingAndGlyphs" >CON</text>
<rect x="409.45" y="233.30" width="9.80" height="5.60" fill="#d9d9d9" stroke="#000" stroke-width="1.3"/>
<text x="424.60" y="239.05" font-size="7.8" font-family='"Liberation Serif","DejaVu Serif",serif' font-weight="normal" text-anchor="start" fill="#000" textLength="11.40" lengthAdjust="spacingAndGlyphs" >MB</text>
<rect x="409.45" y="245.90" width="9.80" height="5.60" fill="#636363" stroke="#000" stroke-width="1.3"/>
<text x="424.60" y="251.65" font-size="7.8" font-family='"Liberation Serif","DejaVu Serif",serif' font-weight="normal" text-anchor="start" fill="#000" textLength="11.40" lengthAdjust="spacingAndGlyphs" >A/S</text>
<rect x="409.45" y="258.40" width="9.80" height="5.60" fill="#969696" stroke="#000" stroke-width="1.3"/>
<text x="424.60" y="264.15" font-size="7.8" font-family='"Liberation Serif","DejaVu Serif",serif' font-weight="normal" text-anchor="start" fill="#000" textLength="27.00" lengthAdjust="spacingAndGlyphs" >A/S+MB</text>
<line x1="514.30" y1="298.70" x2="514.30" y2="294.50" stroke="#222" stroke-width="1.15" stroke-linecap="butt"/>
<line x1="511.70" y1="294.50" x2="516.90" y2="294.50" stroke="#222" stroke-width="1.15" stroke-linecap="butt"/>
<rect x="509.55" y="299.40" width="9.50" height="60.80" fill="#ffffff" stroke="#000" stroke-width="1.4"/>
<line x1="529.60" y1="297.70" x2="529.60" y2="293.30" stroke="#222" stroke-width="1.15" stroke-linecap="butt"/>
<line x1="527.00" y1="293.30" x2="532.20" y2="293.30" stroke="#222" stroke-width="1.15" stroke-linecap="butt"/>
<rect x="524.85" y="298.40" width="9.50" height="61.80" fill="#d9d9d9" stroke="#000" stroke-width="1.4"/>
<line x1="544.65" y1="283.60" x2="544.65" y2="277.60" stroke="#222" stroke-width="1.15" stroke-linecap="butt"/>
<line x1="542.05" y1="277.60" x2="547.25" y2="277.60" stroke="#222" stroke-width="1.15" stroke-linecap="butt"/>
<rect x="539.90" y="284.30" width="9.50" height="75.90" fill="#636363" stroke="#000" stroke-width="1.4"/>
<line x1="559.60" y1="296.20" x2="559.60" y2="292.30" stroke="#222" stroke-width="1.15" stroke-linecap="butt"/>
<line x1="557.00" y1="292.30" x2="562.20" y2="292.30" stroke="#222" stroke-width="1.15" stroke-linecap="butt"/>
<rect x="554.85" y="296.90" width="9.50" height="63.30" fill="#969696" stroke="#000" stroke-width="1.4"/>
<line x1="584.45" y1="300.40" x2="584.45" y2="295.50" stroke="#222" stroke-width="1.15" stroke-linecap="butt"/>
<line x1="581.85" y1="295.50" x2="587.05" y2="295.50" stroke="#222" stroke-width="1.15" stroke-linecap="butt"/>
<rect x="579.70" y="301.10" width="9.50" height="59.10" fill="#ffffff" stroke="#000" stroke-width="1.4"/>
<line x1="599.60" y1="294.40" x2="599.60" y2="288.50" stroke="#222" stroke-width="1.15" stroke-linecap="butt"/>
<line x1="597.00" y1="288.50" x2="602.20" y2="288.50" stroke="#222" stroke-width="1.15" stroke-linecap="butt"/>
<rect x="594.85" y="295.10" width="9.50" height="65.10" fill="#d9d9d9" stroke="#000" stroke-width="1.4"/>
<line x1="614.75" y1="283.00" x2="614.75" y2="277.50" stroke="#222" stroke-width="1.15" stroke-linecap="butt"/>
<line x1="612.15" y1="277.50" x2="617.35" y2="277.50" stroke="#222" stroke-width="1.15" stroke-linecap="butt"/>
<rect x="610.00" y="283.70" width="9.50" height="76.50" fill="#636363" stroke="#000" stroke-width="1.4"/>
<line x1="629.75" y1="292.40" x2="629.75" y2="288.00" stroke="#222" stroke-width="1.15" stroke-linecap="butt"/>
<line x1="627.15" y1="288.00" x2="632.35" y2="288.00" stroke="#222" stroke-width="1.15" stroke-linecap="butt"/>
<rect x="625.00" y="293.10" width="9.50" height="67.10" fill="#969696" stroke="#000" stroke-width="1.4"/>
<line x1="504.30" y1="269.30" x2="504.30" y2="360.95" stroke="#000" stroke-width="1.5" stroke-linecap="butt"/>
<line x1="503.55" y1="360.20" x2="639.60" y2="360.20" stroke="#000" stroke-width="1.5" stroke-linecap="butt"/>
<line x1="499.70" y1="269.90" x2="504.30" y2="269.90" stroke="#000" stroke-width="1.25" stroke-linecap="butt"/>
<text x="488.93" y="272.71" font-size="7.81" font-family='"Liberation Sans","DejaVu Sans",sans-serif' font-weight="bold" text-anchor="start" fill="#000" textLength="11.17" lengthAdjust="spacingAndGlyphs" stroke="#000" stroke-width="0.26" stroke-linejoin="round" >200</text>
<line x1="499.70" y1="292.50" x2="504.30" y2="292.50" stroke="#000" stroke-width="1.25" stroke-linecap="butt"/>
<text x="488.93" y="295.31" font-size="7.81" font-family='"Liberation Sans","DejaVu Sans",sans-serif' font-weight="bold" text-anchor="start" fill="#000" textLength="11.17" lengthAdjust="spacingAndGlyphs" stroke="#000" stroke-width="0.26" stroke-linejoin="round" >150</text>
<line x1="499.70" y1="315.10" x2="504.30" y2="315.10" stroke="#000" stroke-width="1.25" stroke-linecap="butt"/>
<text x="488.93" y="317.91" font-size="7.81" font-family='"Liberation Sans","DejaVu Sans",sans-serif' font-weight="bold" text-anchor="start" fill="#000" textLength="11.17" lengthAdjust="spacingAndGlyphs" stroke="#000" stroke-width="0.26" stroke-linejoin="round" >100</text>
<line x1="499.70" y1="337.70" x2="504.30" y2="337.70" stroke="#000" stroke-width="1.25" stroke-linecap="butt"/>
<text x="492.65" y="340.51" font-size="7.81" font-family='"Liberation Sans","DejaVu Sans",sans-serif' font-weight="bold" text-anchor="start" fill="#000" textLength="7.45" lengthAdjust="spacingAndGlyphs" stroke="#000" stroke-width="0.26" stroke-linejoin="round" >50</text>
<line x1="499.70" y1="360.20" x2="504.30" y2="360.20" stroke="#000" stroke-width="1.25" stroke-linecap="butt"/>
<text x="496.38" y="363.01" font-size="7.81" font-family='"Liberation Sans","DejaVu Sans",sans-serif' font-weight="bold" text-anchor="start" fill="#000" textLength="3.72" lengthAdjust="spacingAndGlyphs" stroke="#000" stroke-width="0.26" stroke-linejoin="round" >0</text>
<line x1="536.50" y1="360.20" x2="536.50" y2="364.20" stroke="#000" stroke-width="1.35" stroke-linecap="butt"/>
<text x="532.50" y="371.30" font-size="8" font-family='"Liberation Serif","DejaVu Serif",serif' font-weight="bold" text-anchor="start" fill="#000" textLength="8.00" lengthAdjust="spacingAndGlyphs" stroke="#000" stroke-width="0.2" stroke-linejoin="round" >6h</text>
<line x1="606.50" y1="360.20" x2="606.50" y2="364.20" stroke="#000" stroke-width="1.35" stroke-linecap="butt"/>
<text x="600.58" y="371.30" font-size="8" font-family='"Liberation Serif","DejaVu Serif",serif' font-weight="bold" text-anchor="start" fill="#000" textLength="11.84" lengthAdjust="spacingAndGlyphs" stroke="#000" stroke-width="0.2" stroke-linejoin="round" >24h</text>
<text x="549.70" y="257.10" font-size="7.665" font-family='"Liberation Serif","DejaVu Serif",serif' font-weight="bold" text-anchor="start" fill="#000" textLength="45.00" lengthAdjust="spacingAndGlyphs" stroke="#000" stroke-width="0.2" stroke-linejoin="round" >Open field test</text>
<text x="438.50" y="314.70" font-size="7.488" font-family='"Liberation Serif","DejaVu Serif",serif' font-weight="bold" text-anchor="start" fill="#000" textLength="93.00" lengthAdjust="spacingAndGlyphs" transform="rotate(-90 485.00 314.70)" stroke="#000" stroke-width="0.2" stroke-linejoin="round" >Latency to center (% baseline)</text>
<text x="472.00" y="215.10" font-size="14.5" font-family='"Liberation Serif","DejaVu Serif",serif' font-weight="bold" text-anchor="start" fill="#000" stroke="#000" stroke-width="0.2" stroke-linejoin="round" >F</text>
<polyline points="585.30,291.50 585.30,267.90 614.60,267.90 614.60,273.80" fill="none" stroke="#444" stroke-width="1.4" stroke-linejoin="miter"/>
<text x="600.00" y="268.50" font-size="9" font-family='"Liberation Sans","DejaVu Sans",sans-serif' font-weight="normal" text-anchor="middle" fill="#444" stroke="#444" stroke-width="0.3">*</text>
<rect x="632.95" y="213.60" width="10.00" height="5.60" fill="#ffffff" stroke="#000" stroke-width="1.3"/>
<text x="648.20" y="219.35" font-size="7.8" font-family='"Liberation Serif","DejaVu Serif",serif' font-weight="normal" text-anchor="start" fill="#000" textLength="15.50" lengthAdjust="spacingAndGlyphs" >CON</text>
<rect x="632.95" y="226.30" width="10.00" height="5.60" fill="#d9d9d9" stroke="#000" stroke-width="1.3"/>
<text x="648.20" y="232.05" font-size="7.8" font-family='"Liberation Serif","DejaVu Serif",serif' font-weight="normal" text-anchor="start" fill="#000" textLength="11.40" lengthAdjust="spacingAndGlyphs" >MB</text>
<rect x="632.95" y="239.00" width="10.00" height="5.60" fill="#636363" stroke="#000" stroke-width="1.3"/>
<text x="648.20" y="244.75" font-size="7.8" font-family='"Liberation Serif","DejaVu Serif",serif' font-weight="normal" text-anchor="start" fill="#000" textLength="11.40" lengthAdjust="spacingAndGlyphs" >A/S</text>
<rect x="632.95" y="251.80" width="10.00" height="5.60" fill="#969696" stroke="#000" stroke-width="1.3"/>
<text x="648.20" y="257.55" font-size="7.8" font-family='"Liberation Serif","DejaVu Serif",serif' font-weight="normal" text-anchor="start" fill="#000" textLength="27.00" lengthAdjust="spacingAndGlyphs" >A/S+MB</text>
<line x1="48.40" y1="470.80" x2="48.40" y2="466.40" stroke="#222" stroke-width="1.15" stroke-linecap="butt"/>
<line x1="45.10" y1="466.40" x2="51.70" y2="466.40" stroke="#222" stroke-width="1.15" stroke-linecap="butt"/>
<rect x="43.00" y="471.50" width="10.80" height="73.20" fill="#ffffff" stroke="#000" stroke-width="1.4"/>
<line x1="65.35" y1="461.60" x2="65.35" y2="455.30" stroke="#222" stroke-width="1.15" stroke-linecap="butt"/>
<line x1="62.05" y1="455.30" x2="68.65" y2="455.30" stroke="#222" stroke-width="1.15" stroke-linecap="butt"/>
<rect x="59.95" y="462.30" width="10.80" height="82.40" fill="#d9d9d9" stroke="#000" stroke-width="1.4"/>
<line x1="82.15" y1="458.90" x2="82.15" y2="454.20" stroke="#222" stroke-width="1.15" stroke-linecap="butt"/>
<line x1="78.85" y1="454.20" x2="85.45" y2="454.20" stroke="#222" stroke-width="1.15" stroke-linecap="butt"/>
<rect x="76.75" y="459.60" width="10.80" height="85.10" fill="#636363" stroke="#000" stroke-width="1.4"/>
<line x1="99.00" y1="467.30" x2="99.00" y2="464.30" stroke="#222" stroke-width="1.15" stroke-linecap="butt"/>
<line x1="95.70" y1="464.30" x2="102.30" y2="464.30" stroke="#222" stroke-width="1.15" stroke-linecap="butt"/>
<rect x="93.60" y="468.00" width="10.80" height="76.70" fill="#969696" stroke="#000" stroke-width="1.4"/>
<line x1="126.45" y1="475.80" x2="126.45" y2="471.20" stroke="#222" stroke-width="1.15" stroke-linecap="butt"/>
<line x1="123.15" y1="471.20" x2="129.75" y2="471.20" stroke="#222" stroke-width="1.15" stroke-linecap="butt"/>
<rect x="121.05" y="476.50" width="10.80" height="68.20" fill="#ffffff" stroke="#000" stroke-width="1.4"/>
<line x1="143.20" y1="475.20" x2="143.20" y2="472.50" stroke="#222" stroke-width="1.15" stroke-linecap="butt"/>
<line x1="139.90" y1="472.50" x2="146.50" y2="472.50" stroke="#222" stroke-width="1.15" stroke-linecap="butt"/>
<rect x="137.80" y="475.90" width="10.80" height="68.80" fill="#d9d9d9" stroke="#000" stroke-width="1.4"/>
<line x1="160.00" y1="478.40" x2="160.00" y2="475.20" stroke="#222" stroke-width="1.15" stroke-linecap="butt"/>
<line x1="156.70" y1="475.20" x2="163.30" y2="475.20" stroke="#222" stroke-width="1.15" stroke-linecap="butt"/>
<rect x="154.60" y="479.10" width="10.80" height="65.60" fill="#636363" stroke="#000" stroke-width="1.4"/>
<line x1="176.90" y1="473.30" x2="176.90" y2="469.60" stroke="#222" stroke-width="1.15" stroke-linecap="butt"/>
<line x1="173.60" y1="469.60" x2="180.20" y2="469.60" stroke="#222" stroke-width="1.15" stroke-linecap="butt"/>
<rect x="171.50" y="474.00" width="10.80" height="70.70" fill="#969696" stroke="#000" stroke-width="1.4"/>
<line x1="37.40" y1="443.80" x2="37.40" y2="545.45" stroke="#000" stroke-width="1.5" stroke-linecap="butt"/>
<line x1="36.65" y1="544.70" x2="188.00" y2="544.70" stroke="#000" stroke-width="1.5" stroke-linecap="butt"/>
<line x1="32.80" y1="444.40" x2="37.40" y2="444.40" stroke="#000" stroke-width="1.25" stroke-linecap="butt"/>
<text x="21.27" y="447.40" font-size="8.35" font-family='"Liberation Sans","DejaVu Sans",sans-serif' font-weight="bold" text-anchor="start" fill="#000" textLength="11.93" lengthAdjust="spacingAndGlyphs" stroke="#000" stroke-width="0.26" stroke-linejoin="round" >150</text>
<line x1="32.80" y1="477.60" x2="37.40" y2="477.60" stroke="#000" stroke-width="1.25" stroke-linecap="butt"/>
<text x="21.27" y="480.60" font-size="8.35" font-family='"Liberation Sans","DejaVu Sans",sans-serif' font-weight="bold" text-anchor="start" fill="#000" textLength="11.93" lengthAdjust="spacingAndGlyphs" stroke="#000" stroke-width="0.26" stroke-linejoin="round" >100</text>
<line x1="32.80" y1="511.10" x2="37.40" y2="511.10" stroke="#000" stroke-width="1.25" stroke-linecap="butt"/>
<text x="25.24" y="514.10" font-size="8.35" font-family='"Liberation Sans","DejaVu Sans",sans-serif' font-weight="bold" text-anchor="start" fill="#000" textLength="7.96" lengthAdjust="spacingAndGlyphs" stroke="#000" stroke-width="0.26" stroke-linejoin="round" >50</text>
<line x1="32.80" y1="544.70" x2="37.40" y2="544.70" stroke="#000" stroke-width="1.25" stroke-linecap="butt"/>
<text x="29.22" y="547.70" font-size="8.35" font-family='"Liberation Sans","DejaVu Sans",sans-serif' font-weight="bold" text-anchor="start" fill="#000" textLength="3.98" lengthAdjust="spacingAndGlyphs" stroke="#000" stroke-width="0.26" stroke-linejoin="round" >0</text>
<line x1="73.70" y1="544.70" x2="73.70" y2="548.70" stroke="#000" stroke-width="1.35" stroke-linecap="butt"/>
<text x="69.50" y="556.20" font-size="8.4" font-family='"Liberation Serif","DejaVu Serif",serif' font-weight="bold" text-anchor="start" fill="#000" textLength="8.40" lengthAdjust="spacingAndGlyphs" stroke="#000" stroke-width="0.2" stroke-linejoin="round" >6h</text>
<line x1="151.20" y1="544.70" x2="151.20" y2="548.70" stroke="#000" stroke-width="1.35" stroke-linecap="butt"/>
<text x="144.98" y="556.20" font-size="8.4" font-family='"Liberation Serif","DejaVu Serif",serif' font-weight="bold" text-anchor="start" fill="#000" textLength="12.43" lengthAdjust="spacingAndGlyphs" stroke="#000" stroke-width="0.2" stroke-linejoin="round" >24h</text>
<text x="87.95" y="429.60" font-size="8.4" font-family='"Liberation Serif","DejaVu Serif",serif' font-weight="bold" text-anchor="start" fill="#000" textLength="49.50" lengthAdjust="spacingAndGlyphs" stroke="#000" stroke-width="0.2" stroke-linejoin="round" >Open field test</text>
<text x="-30.10" y="494.50" font-size="8.372000000000002" font-family='"Liberation Serif","DejaVu Serif",serif' font-weight="bold" text-anchor="start" fill="#000" textLength="92.00" lengthAdjust="spacingAndGlyphs" transform="rotate(-90 15.90 494.50)" stroke="#000" stroke-width="0.2" stroke-linejoin="round" >Freezing time (% baseline)</text>
<text x="1.50" y="419.30" font-size="14.5" font-family='"Liberation Serif","DejaVu Serif",serif' font-weight="bold" text-anchor="start" fill="#000" stroke="#000" stroke-width="0.2" stroke-linejoin="round" >G</text>
<rect x="179.45" y="412.50" width="11.50" height="6.00" fill="#ffffff" stroke="#000" stroke-width="1.3"/>
<text x="196.80" y="418.60" font-size="8.6" font-family='"Liberation Serif","DejaVu Serif",serif' font-weight="normal" text-anchor="start" fill="#000" textLength="16.70" lengthAdjust="spacingAndGlyphs" >CON</text>
<rect x="179.45" y="426.70" width="11.50" height="6.00" fill="#d9d9d9" stroke="#000" stroke-width="1.3"/>
<text x="196.80" y="432.80" font-size="8.6" font-family='"Liberation Serif","DejaVu Serif",serif' font-weight="normal" text-anchor="start" fill="#000" textLength="12.40" lengthAdjust="spacingAndGlyphs" >MB</text>
<rect x="179.45" y="440.90" width="11.50" height="6.00" fill="#636363" stroke="#000" stroke-width="1.3"/>
<text x="196.80" y="447.00" font-size="8.6" font-family='"Liberation Serif","DejaVu Serif",serif' font-weight="normal" text-anchor="start" fill="#000" textLength="12.40" lengthAdjust="spacingAndGlyphs" >A/S</text>
<rect x="179.45" y="455.00" width="11.50" height="6.00" fill="#969696" stroke="#000" stroke-width="1.3"/>
<text x="196.80" y="461.10" font-size="8.6" font-family='"Liberation Serif","DejaVu Serif",serif' font-weight="normal" text-anchor="start" fill="#000" textLength="29.30" lengthAdjust="spacingAndGlyphs" >A/S+MB</text>
<line x1="285.50" y1="489.70" x2="285.50" y2="481.50" stroke="#222" stroke-width="1.15" stroke-linecap="butt"/>
<line x1="282.90" y1="481.50" x2="288.10" y2="481.50" stroke="#222" stroke-width="1.15" stroke-linecap="butt"/>
<rect x="280.75" y="490.40" width="9.50" height="55.60" fill="#ffffff" stroke="#000" stroke-width="1.4"/>
<line x1="300.50" y1="483.40" x2="300.50" y2="476.50" stroke="#222" stroke-width="1.15" stroke-linecap="butt"/>
<line x1="297.90" y1="476.50" x2="303.10" y2="476.50" stroke="#222" stroke-width="1.15" stroke-linecap="butt"/>
<rect x="295.75" y="484.10" width="9.50" height="61.90" fill="#d9d9d9" stroke="#000" stroke-width="1.4"/>
<line x1="315.40" y1="510.50" x2="315.40" y2="506.00" stroke="#222" stroke-width="1.15" stroke-linecap="butt"/>
<line x1="312.80" y1="506.00" x2="318.00" y2="506.00" stroke="#222" stroke-width="1.15" stroke-linecap="butt"/>
<rect x="310.65" y="511.20" width="9.50" height="34.80" fill="#636363" stroke="#000" stroke-width="1.4"/>
<line x1="330.40" y1="501.60" x2="330.40" y2="497.60" stroke="#222" stroke-width="1.15" stroke-linecap="butt"/>
<line x1="327.80" y1="497.60" x2="333.00" y2="497.60" stroke="#222" stroke-width="1.15" stroke-linecap="butt"/>
<rect x="325.65" y="502.30" width="9.50" height="43.70" fill="#969696" stroke="#000" stroke-width="1.4"/>
<line x1="355.50" y1="481.20" x2="355.50" y2="472.60" stroke="#222" stroke-width="1.15" stroke-linecap="butt"/>
<line x1="352.90" y1="472.60" x2="358.10" y2="472.60" stroke="#222" stroke-width="1.15" stroke-linecap="butt"/>
<rect x="350.75" y="481.90" width="9.50" height="64.10" fill="#ffffff" stroke="#000" stroke-width="1.4"/>
<line x1="370.35" y1="469.30" x2="370.35" y2="459.20" stroke="#222" stroke-width="1.15" stroke-linecap="butt"/>
<line x1="367.75" y1="459.20" x2="372.95" y2="459.20" stroke="#222" stroke-width="1.15" stroke-linecap="butt"/>
<rect x="365.60" y="470.00" width="9.50" height="76.00" fill="#d9d9d9" stroke="#000" stroke-width="1.4"/>
<line x1="385.45" y1="496.00" x2="385.45" y2="488.50" stroke="#222" stroke-width="1.15" stroke-linecap="butt"/>
<line x1="382.85" y1="488.50" x2="388.05" y2="488.50" stroke="#222" stroke-width="1.15" stroke-linecap="butt"/>
<rect x="380.70" y="496.70" width="9.50" height="49.30" fill="#636363" stroke="#000" stroke-width="1.4"/>
<line x1="400.55" y1="494.40" x2="400.55" y2="490.30" stroke="#222" stroke-width="1.15" stroke-linecap="butt"/>
<line x1="397.95" y1="490.30" x2="403.15" y2="490.30" stroke="#222" stroke-width="1.15" stroke-linecap="butt"/>
<rect x="395.80" y="495.10" width="9.50" height="50.90" fill="#969696" stroke="#000" stroke-width="1.4"/>
<line x1="275.20" y1="455.00" x2="275.20" y2="546.75" stroke="#000" stroke-width="1.5" stroke-linecap="butt"/>
<line x1="274.45" y1="546.00" x2="410.70" y2="546.00" stroke="#000" stroke-width="1.5" stroke-linecap="butt"/>
<line x1="270.60" y1="455.60" x2="275.20" y2="455.60" stroke="#000" stroke-width="1.25" stroke-linecap="butt"/>
<text x="259.83" y="458.41" font-size="7.81" font-family='"Liberation Sans","DejaVu Sans",sans-serif' font-weight="bold" text-anchor="start" fill="#000" textLength="11.17" lengthAdjust="spacingAndGlyphs" stroke="#000" stroke-width="0.26" stroke-linejoin="round" >150</text>
<line x1="270.60" y1="485.80" x2="275.20" y2="485.80" stroke="#000" stroke-width="1.25" stroke-linecap="butt"/>
<text x="259.83" y="488.61" font-size="7.81" font-family='"Liberation Sans","DejaVu Sans",sans-serif' font-weight="bold" text-anchor="start" fill="#000" textLength="11.17" lengthAdjust="spacingAndGlyphs" stroke="#000" stroke-width="0.26" stroke-linejoin="round" >100</text>
<line x1="270.60" y1="515.90" x2="275.20" y2="515.90" stroke="#000" stroke-width="1.25" stroke-linecap="butt"/>
<text x="263.55" y="518.71" font-size="7.81" font-family='"Liberation Sans","DejaVu Sans",sans-serif' font-weight="bold" text-anchor="start" fill="#000" textLength="7.45" lengthAdjust="spacingAndGlyphs" stroke="#000" stroke-width="0.26" stroke-linejoin="round" >50</text>
<line x1="270.60" y1="546.00" x2="275.20" y2="546.00" stroke="#000" stroke-width="1.25" stroke-linecap="butt"/>
<text x="267.28" y="548.81" font-size="7.81" font-family='"Liberation Sans","DejaVu Sans",sans-serif' font-weight="bold" text-anchor="start" fill="#000" textLength="3.72" lengthAdjust="spacingAndGlyphs" stroke="#000" stroke-width="0.26" stroke-linejoin="round" >0</text>
<line x1="307.50" y1="546.00" x2="307.50" y2="550.00" stroke="#000" stroke-width="1.35" stroke-linecap="butt"/>
<text x="303.50" y="557.30" font-size="8" font-family='"Liberation Serif","DejaVu Serif",serif' font-weight="bold" text-anchor="start" fill="#000" textLength="8.00" lengthAdjust="spacingAndGlyphs" stroke="#000" stroke-width="0.2" stroke-linejoin="round" >6h</text>
<line x1="378.00" y1="546.00" x2="378.00" y2="550.00" stroke="#000" stroke-width="1.35" stroke-linecap="butt"/>
<text x="372.08" y="557.30" font-size="8" font-family='"Liberation Serif","DejaVu Serif",serif' font-weight="bold" text-anchor="start" fill="#000" textLength="11.84" lengthAdjust="spacingAndGlyphs" stroke="#000" stroke-width="0.2" stroke-linejoin="round" >24h</text>
<text x="325.60" y="443.00" font-size="7.5600000000000005" font-family='"Liberation Serif","DejaVu Serif",serif' font-weight="bold" text-anchor="start" fill="#000" textLength="35.00" lengthAdjust="spacingAndGlyphs" stroke="#000" stroke-width="0.2" stroke-linejoin="round" >Y maze test</text>
<text x="204.40" y="500.40" font-size="7.488" font-family='"Liberation Serif","DejaVu Serif",serif' font-weight="bold" text-anchor="start" fill="#000" textLength="102.40" lengthAdjust="spacingAndGlyphs" transform="rotate(-90 255.60 500.40)" stroke="#000" stroke-width="0.2" stroke-linejoin="round" >Entries in novel arm (% baseline)</text>
<text x="238.50" y="418.60" font-size="14.5" font-family='"Liberation Serif","DejaVu Serif",serif' font-weight="bold" text-anchor="start" fill="#000" stroke="#000" stroke-width="0.2" stroke-linejoin="round" >H</text>
<polyline points="299.90,473.00 299.90,467.30 314.70,467.30 314.70,503.00" fill="none" stroke="#444" stroke-width="1.4" stroke-linejoin="miter"/>
<text x="307.10" y="467.60" font-size="9.5" font-family='"Liberation Sans","DejaVu Sans",sans-serif' font-weight="normal" text-anchor="middle" fill="#444" stroke="#444" stroke-width="0.3">**</text>
<rect x="402.85" y="412.30" width="10.00" height="5.60" fill="#ffffff" stroke="#000" stroke-width="1.3"/>
<text x="417.60" y="418.05" font-size="7.8" font-family='"Liberation Serif","DejaVu Serif",serif' font-weight="normal" text-anchor="start" fill="#000" textLength="15.20" lengthAdjust="spacingAndGlyphs" >CON</text>
<rect x="402.85" y="424.90" width="10.00" height="5.60" fill="#d9d9d9" stroke="#000" stroke-width="1.3"/>
<text x="417.60" y="430.65" font-size="7.8" font-family='"Liberation Serif","DejaVu Serif",serif' font-weight="normal" text-anchor="start" fill="#000" textLength="11.20" lengthAdjust="spacingAndGlyphs" >MB</text>
<rect x="402.85" y="437.60" width="10.00" height="5.60" fill="#636363" stroke="#000" stroke-width="1.3"/>
<text x="417.60" y="443.35" font-size="7.8" font-family='"Liberation Serif","DejaVu Serif",serif' font-weight="normal" text-anchor="start" fill="#000" textLength="11.20" lengthAdjust="spacingAndGlyphs" >A/S</text>
<rect x="402.85" y="450.20" width="10.00" height="5.60" fill="#969696" stroke="#000" stroke-width="1.3"/>
<text x="417.60" y="455.95" font-size="7.8" font-family='"Liberation Serif","DejaVu Serif",serif' font-weight="normal" text-anchor="start" fill="#000" textLength="26.40" lengthAdjust="spacingAndGlyphs" >A/S+MB</text>
<line x1="514.05" y1="482.20" x2="514.05" y2="474.30" stroke="#222" stroke-width="1.15" stroke-linecap="butt"/>
<line x1="511.45" y1="474.30" x2="516.65" y2="474.30" stroke="#222" stroke-width="1.15" stroke-linecap="butt"/>
<rect x="509.30" y="482.90" width="9.50" height="63.00" fill="#ffffff" stroke="#000" stroke-width="1.4"/>
<line x1="529.60" y1="501.70" x2="529.60" y2="495.60" stroke="#222" stroke-width="1.15" stroke-linecap="butt"/>
<line x1="527.00" y1="495.60" x2="532.20" y2="495.60" stroke="#222" stroke-width="1.15" stroke-linecap="butt"/>
<rect x="524.85" y="502.40" width="9.50" height="43.50" fill="#d9d9d9" stroke="#000" stroke-width="1.4"/>
<line x1="544.50" y1="508.60" x2="544.50" y2="504.40" stroke="#222" stroke-width="1.15" stroke-linecap="butt"/>
<line x1="541.90" y1="504.40" x2="547.10" y2="504.40" stroke="#222" stroke-width="1.15" stroke-linecap="butt"/>
<rect x="539.75" y="509.30" width="9.50" height="36.60" fill="#636363" stroke="#000" stroke-width="1.4"/>
<line x1="559.55" y1="493.60" x2="559.55" y2="490.40" stroke="#222" stroke-width="1.15" stroke-linecap="butt"/>
<line x1="556.95" y1="490.40" x2="562.15" y2="490.40" stroke="#222" stroke-width="1.15" stroke-linecap="butt"/>
<rect x="554.80" y="494.30" width="9.50" height="51.60" fill="#969696" stroke="#000" stroke-width="1.4"/>
<line x1="584.35" y1="480.90" x2="584.35" y2="476.70" stroke="#222" stroke-width="1.15" stroke-linecap="butt"/>
<line x1="581.75" y1="476.70" x2="586.95" y2="476.70" stroke="#222" stroke-width="1.15" stroke-linecap="butt"/>
<rect x="579.60" y="481.60" width="9.50" height="64.30" fill="#ffffff" stroke="#000" stroke-width="1.4"/>
<line x1="599.45" y1="493.40" x2="599.45" y2="482.70" stroke="#222" stroke-width="1.15" stroke-linecap="butt"/>
<line x1="596.85" y1="482.70" x2="602.05" y2="482.70" stroke="#222" stroke-width="1.15" stroke-linecap="butt"/>
<rect x="594.70" y="494.10" width="9.50" height="51.80" fill="#d9d9d9" stroke="#000" stroke-width="1.4"/>
<line x1="614.65" y1="470.50" x2="614.65" y2="456.80" stroke="#222" stroke-width="1.15" stroke-linecap="butt"/>
<line x1="612.05" y1="456.80" x2="617.25" y2="456.80" stroke="#222" stroke-width="1.15" stroke-linecap="butt"/>
<rect x="609.90" y="471.20" width="9.50" height="74.70" fill="#636363" stroke="#000" stroke-width="1.4"/>
<line x1="629.70" y1="482.20" x2="629.70" y2="478.60" stroke="#222" stroke-width="1.15" stroke-linecap="butt"/>
<line x1="627.10" y1="478.60" x2="632.30" y2="478.60" stroke="#222" stroke-width="1.15" stroke-linecap="butt"/>
<rect x="624.95" y="482.90" width="9.50" height="63.00" fill="#969696" stroke="#000" stroke-width="1.4"/>
<line x1="504.20" y1="455.00" x2="504.20" y2="546.65" stroke="#000" stroke-width="1.5" stroke-linecap="butt"/>
<line x1="503.45" y1="545.90" x2="639.60" y2="545.90" stroke="#000" stroke-width="1.5" stroke-linecap="butt"/>
<line x1="499.60" y1="455.60" x2="504.20" y2="455.60" stroke="#000" stroke-width="1.25" stroke-linecap="butt"/>
<text x="488.83" y="458.41" font-size="7.81" font-family='"Liberation Sans","DejaVu Sans",sans-serif' font-weight="bold" text-anchor="start" fill="#000" textLength="11.17" lengthAdjust="spacingAndGlyphs" stroke="#000" stroke-width="0.26" stroke-linejoin="round" >150</text>
<line x1="499.60" y1="485.70" x2="504.20" y2="485.70" stroke="#000" stroke-width="1.25" stroke-linecap="butt"/>
<text x="488.83" y="488.51" font-size="7.81" font-family='"Liberation Sans","DejaVu Sans",sans-serif' font-weight="bold" text-anchor="start" fill="#000" textLength="11.17" lengthAdjust="spacingAndGlyphs" stroke="#000" stroke-width="0.26" stroke-linejoin="round" >100</text>
<line x1="499.60" y1="515.80" x2="504.20" y2="515.80" stroke="#000" stroke-width="1.25" stroke-linecap="butt"/>
<text x="492.55" y="518.61" font-size="7.81" font-family='"Liberation Sans","DejaVu Sans",sans-serif' font-weight="bold" text-anchor="start" fill="#000" textLength="7.45" lengthAdjust="spacingAndGlyphs" stroke="#000" stroke-width="0.26" stroke-linejoin="round" >50</text>
<line x1="499.60" y1="545.90" x2="504.20" y2="545.90" stroke="#000" stroke-width="1.25" stroke-linecap="butt"/>
<text x="496.28" y="548.71" font-size="7.81" font-family='"Liberation Sans","DejaVu Sans",sans-serif' font-weight="bold" text-anchor="start" fill="#000" textLength="3.72" lengthAdjust="spacingAndGlyphs" stroke="#000" stroke-width="0.26" stroke-linejoin="round" >0</text>
<line x1="536.80" y1="545.90" x2="536.80" y2="549.90" stroke="#000" stroke-width="1.35" stroke-linecap="butt"/>
<text x="532.80" y="556.90" font-size="8" font-family='"Liberation Serif","DejaVu Serif",serif' font-weight="bold" text-anchor="start" fill="#000" textLength="8.00" lengthAdjust="spacingAndGlyphs" stroke="#000" stroke-width="0.2" stroke-linejoin="round" >6h</text>
<line x1="606.50" y1="545.90" x2="606.50" y2="549.90" stroke="#000" stroke-width="1.35" stroke-linecap="butt"/>
<text x="600.58" y="556.90" font-size="8" font-family='"Liberation Serif","DejaVu Serif",serif' font-weight="bold" text-anchor="start" fill="#000" textLength="11.84" lengthAdjust="spacingAndGlyphs" stroke="#000" stroke-width="0.2" stroke-linejoin="round" >24h</text>
<text x="554.50" y="443.00" font-size="7.5600000000000005" font-family='"Liberation Serif","DejaVu Serif",serif' font-weight="bold" text-anchor="start" fill="#000" textLength="35.00" lengthAdjust="spacingAndGlyphs" stroke="#000" stroke-width="0.2" stroke-linejoin="round" >Y maze test</text>
<text x="431.35" y="500.50" font-size="7.436000000000001" font-family='"Liberation Serif","DejaVu Serif",serif' font-weight="bold" text-anchor="start" fill="#000" textLength="107.50" lengthAdjust="spacingAndGlyphs" transform="rotate(-90 485.10 500.50)" stroke="#000" stroke-width="0.2" stroke-linejoin="round" >Duration in novel arm (% baseline)</text>
<text x="466.80" y="418.60" font-size="14.5" font-family='"Liberation Serif","DejaVu Serif",serif' font-weight="bold" text-anchor="start" fill="#000" stroke="#000" stroke-width="0.2" stroke-linejoin="round" >I</text>
<polyline points="514.20,471.20 514.20,466.50 544.50,466.50 544.50,501.20" fill="none" stroke="#444" stroke-width="1.4" stroke-linejoin="miter"/>
<text x="529.80" y="466.90" font-size="9" font-family='"Liberation Sans","DejaVu Sans",sans-serif' font-weight="normal" text-anchor="middle" fill="#444" stroke="#444" stroke-width="0.3">**</text>
<rect x="633.65" y="412.30" width="10.00" height="5.60" fill="#ffffff" stroke="#000" stroke-width="1.3"/>
<text x="649.00" y="418.05" font-size="7.8" font-family='"Liberation Serif","DejaVu Serif",serif' font-weight="normal" text-anchor="start" fill="#000" textLength="15.40" lengthAdjust="spacingAndGlyphs" >CON</text>
<rect x="633.65" y="424.90" width="10.00" height="5.60" fill="#d9d9d9" stroke="#000" stroke-width="1.3"/>
<text x="649.00" y="430.65" font-size="7.8" font-family='"Liberation Serif","DejaVu Serif",serif' font-weight="normal" text-anchor="start" fill="#000" textLength="11.40" lengthAdjust="spacingAndGlyphs" >MB</text>
<rect x="633.65" y="437.60" width="10.00" height="5.60" fill="#636363" stroke="#000" stroke-width="1.3"/>
<text x="649.00" y="443.35" font-size="7.8" font-family='"Liberation Serif","DejaVu Serif",serif' font-weight="normal" text-anchor="start" fill="#000" textLength="11.40" lengthAdjust="spacingAndGlyphs" >A/S</text>
<rect x="633.65" y="450.20" width="10.00" height="5.60" fill="#969696" stroke="#000" stroke-width="1.3"/>
<text x="649.00" y="455.95" font-size="7.8" font-family='"Liberation Serif","DejaVu Serif",serif' font-weight="normal" text-anchor="start" fill="#000" textLength="27.00" lengthAdjust="spacingAndGlyphs" >A/S+MB</text>
</svg>
</body></html>
